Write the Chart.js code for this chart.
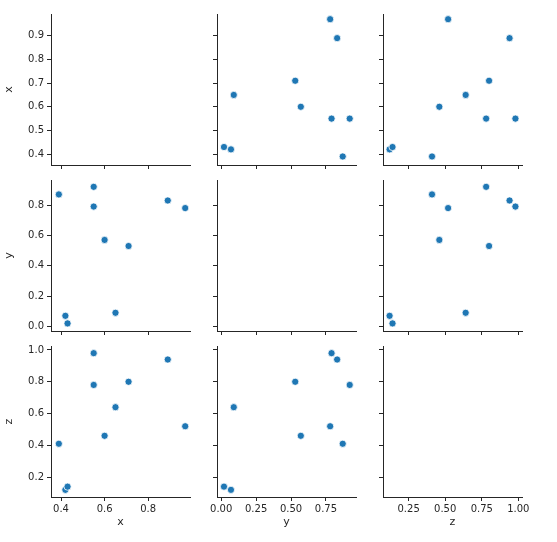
<!DOCTYPE html>
<html><head><meta charset="utf-8">
<script src="https://cdn.jsdelivr.net/npm/chart.js@4"></script>
<style>body{margin:0;background:#fff;width:557px;height:542px;position:relative;overflow:hidden}canvas{position:absolute}</style>
</head><body>
<script>
const varNames = ['x','y','z'];
const xVals = [0.39,0.42,0.43,0.55,0.55,0.60,0.65,0.71,0.89,0.97];
const yVals = [0.87,0.07,0.02,0.92,0.79,0.57,0.09,0.53,0.83,0.78];
const zVals = [0.41,0.12,0.14,0.78,0.98,0.46,0.64,0.80,0.94,0.52];
const xTicks = [0.4,0.6,0.8];
const yTicksCol = [0,0.25,0.5,0.75];
const zTicksCol = [0.25,0.5,0.75,1.0];
const xTicksRow = [0.4,0.5,0.6,0.7,0.8,0.9];
const yTicksRow = [0,0.2,0.4,0.6,0.8];
const zTicksRow = [0.2,0.4,0.6,0.8,1.0];

const vals = [xVals,yVals,zVals];
const ranges = [[0.354,0.992],[-0.03,0.965],[0.075,1.025]];
const colTicks = [xTicks,yTicksCol,zTicksCol];
const colDec = [1,2,2];
const rowTicks = [xTicksRow,yTicksRow,zTicksRow];
const lefts=[51,217,383], tops=[14,180,346], W=139, H=151;
const YW=48, XH=32, PT=10, PR=16;
const txt='#262626', font={family:'DejaVu Sans',size:10};

for(let r=0;r<3;r++)for(let c=0;c<3;c++){
  const cv=document.createElement('canvas');
  const w=YW+W+PR, h=PT+H+XH;
  cv.style.left=(lefts[c]-YW)+'px'; cv.style.top=(tops[r]-PT)+'px';
  cv.style.width=w+'px'; cv.style.height=h+'px';
  cv.width=w; cv.height=h;
  document.body.appendChild(cv);
  const pts = r===c ? [] : vals[c].map((v,i)=>({x:v,y:vals[r][i]}));
  const ct=colTicks[c], rt=rowTicks[r], dec=colDec[c];
  new Chart(cv,{type:'scatter',
    data:{datasets:[{data:pts,backgroundColor:'#1f77b4',borderColor:'#ffffff',borderWidth:0.8,pointRadius:3.6}]},
    options:{responsive:false,animation:false,devicePixelRatio:1,
      layout:{padding:{top:PT,right:PR,left:0,bottom:0}},
      plugins:{legend:{display:false},tooltip:{enabled:false}},
      scales:{
        x:{type:'linear',min:ranges[c][0],max:ranges[c][1],
          afterBuildTicks:s=>{s.ticks=ct.map(v=>({value:v}));},
          afterFit:s=>{s.height=XH;},
          ticks:{display:r===2,color:txt,font,padding:2,callback:v=>v.toFixed(dec)},
          grid:{drawOnChartArea:false,drawTicks:true,tickLength:4,color:txt},
          border:{display:true,color:txt,width:1},
          title:{display:r===2,text:varNames[c],color:txt,font:{family:'DejaVu Sans',size:11},padding:{top:1,bottom:0}}},
        y:{type:'linear',min:ranges[r][0],max:ranges[r][1],
          afterBuildTicks:s=>{s.ticks=rt.map(v=>({value:v}));},
          afterFit:s=>{s.width=YW;},
          ticks:{display:c===0,color:txt,font,padding:3,callback:v=>v.toFixed(1)},
          grid:{drawOnChartArea:false,drawTicks:true,tickLength:4,color:txt},
          border:{display:true,color:txt,width:1},
          title:{display:c===0,text:varNames[r],color:txt,font:{family:'DejaVu Sans',size:11},padding:{top:0,bottom:2}}}
      }}});
}
</script>
</body></html>
